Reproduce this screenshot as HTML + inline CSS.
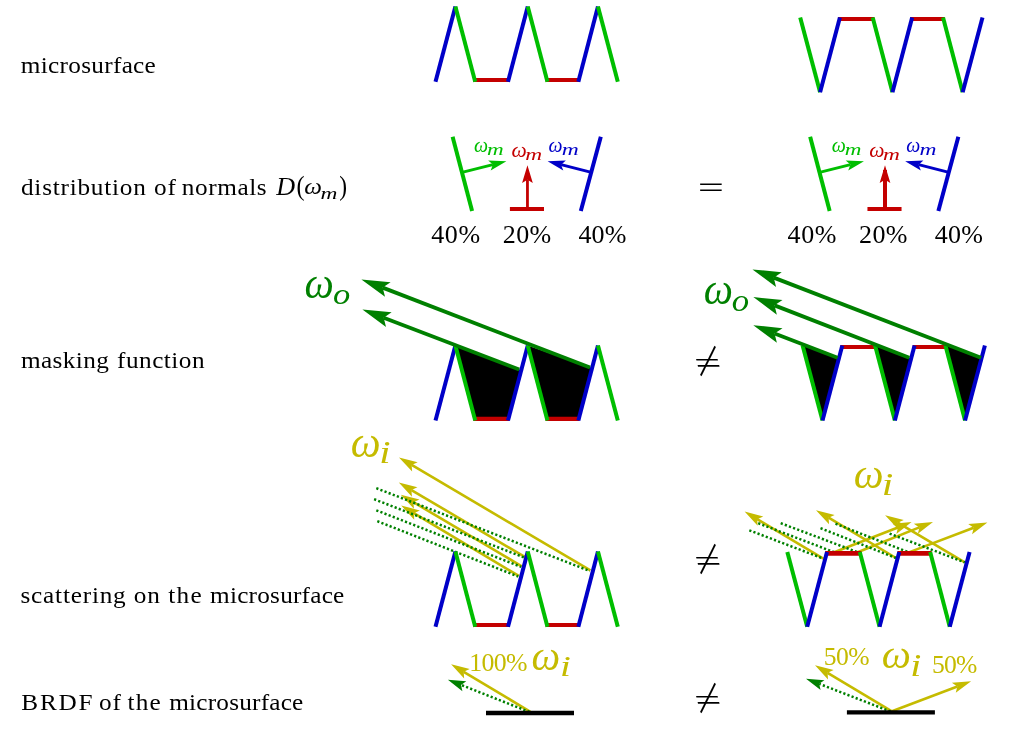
<!DOCTYPE html>
<html lang="en"><head><meta charset="utf-8"><title>Microsurface comparison</title>
<style>
html,body{margin:0;padding:0;background:#fff;}
svg{display:block;will-change:transform;}

</style></head>
<body>
<svg width="1026" height="751" viewBox="0 0 1026 751">
<rect width="1026" height="751" fill="#fff"/>
<g fill="none" stroke-linecap="butt">
<line x1="473.40" y1="80.00" x2="509.00" y2="80.00" stroke="#c40000" stroke-width="4.1" />
<line x1="545.65" y1="80.00" x2="579.35" y2="80.00" stroke="#c40000" stroke-width="4.1" />
<line x1="435.50" y1="81.70" x2="455.40" y2="6.50" stroke="#0000c8" stroke-width="4.0" />
<line x1="508.00" y1="81.70" x2="527.75" y2="6.50" stroke="#0000c8" stroke-width="4.0" />
<line x1="578.35" y1="81.70" x2="597.95" y2="6.50" stroke="#0000c8" stroke-width="4.0" />
<line x1="455.40" y1="6.50" x2="475.20" y2="81.70" stroke="#00be00" stroke-width="4.0" />
<line x1="527.75" y1="6.50" x2="547.45" y2="81.70" stroke="#00be00" stroke-width="4.0" />
<line x1="597.95" y1="6.50" x2="617.80" y2="81.70" stroke="#00be00" stroke-width="4.0" />
<line x1="838.10" y1="18.95" x2="874.20" y2="18.95" stroke="#c40000" stroke-width="4.0" />
<line x1="910.35" y1="18.95" x2="944.55" y2="18.95" stroke="#c40000" stroke-width="4.0" />
<line x1="800.20" y1="17.50" x2="820.10" y2="92.30" stroke="#00be00" stroke-width="4.0" />
<line x1="872.70" y1="17.50" x2="892.45" y2="92.30" stroke="#00be00" stroke-width="4.0" />
<line x1="943.05" y1="17.50" x2="962.65" y2="92.30" stroke="#00be00" stroke-width="4.0" />
<line x1="820.10" y1="92.30" x2="839.90" y2="17.50" stroke="#0000c8" stroke-width="4.0" />
<line x1="892.45" y1="92.30" x2="912.15" y2="17.50" stroke="#0000c8" stroke-width="4.0" />
<line x1="962.65" y1="92.30" x2="982.50" y2="17.50" stroke="#0000c8" stroke-width="4.0" />
<line x1="452.60" y1="136.70" x2="472.10" y2="211.10" stroke="#00be00" stroke-width="4.0" />
<line x1="463.00" y1="172.10" x2="492.92" y2="164.59" stroke="#00be00" stroke-width="3.0" />
<path d="M506.40,161.20 L490.69,170.51 L492.92,164.59 L488.16,160.42 Z" fill="#00be00"/>
<line x1="509.90" y1="208.90" x2="544.00" y2="208.90" stroke="#c40000" stroke-width="4.0" />
<line x1="527.45" y1="208.90" x2="527.45" y2="179.70" stroke="#c40000" stroke-width="2.8" />
<path d="M527.45,165.30 L532.80,182.90 L527.45,179.70 L522.10,182.90 Z" fill="#c40000"/>
<line x1="600.80" y1="136.70" x2="580.80" y2="211.10" stroke="#0000c8" stroke-width="4.0" />
<line x1="590.40" y1="172.10" x2="561.07" y2="164.63" stroke="#0000c8" stroke-width="3.0" />
<path d="M547.60,161.20 L565.84,160.48 L561.07,164.63 L563.28,170.56 Z" fill="#0000c8"/>
<line x1="810.15" y1="136.70" x2="829.65" y2="211.10" stroke="#00be00" stroke-width="4.0" />
<line x1="820.55" y1="172.10" x2="850.47" y2="164.59" stroke="#00be00" stroke-width="3.0" />
<path d="M863.95,161.20 L848.24,170.51 L850.47,164.59 L845.71,160.42 Z" fill="#00be00"/>
<line x1="867.45" y1="208.90" x2="901.55" y2="208.90" stroke="#c40000" stroke-width="4.0" />
<line x1="885.00" y1="208.90" x2="885.00" y2="170.00" stroke="#c40000" stroke-width="4.0" />
<line x1="885.00" y1="208.90" x2="885.00" y2="179.70" stroke="#c40000" stroke-width="4.0" />
<path d="M885.00,165.30 L890.35,182.90 L885.00,179.70 L879.65,182.90 Z" fill="#c40000"/>
<line x1="958.35" y1="136.70" x2="938.35" y2="211.10" stroke="#0000c8" stroke-width="4.0" />
<line x1="947.95" y1="172.10" x2="918.62" y2="164.63" stroke="#0000c8" stroke-width="3.0" />
<path d="M905.15,161.20 L923.39,160.48 L918.62,164.63 L920.83,170.56 Z" fill="#0000c8"/>
<polygon points="455.40,345.40 475.20,420.60 508.00,420.60 520.60,370.10" fill="#000"/>
<polygon points="527.75,345.40 547.45,420.60 578.35,420.60 591.40,368.10" fill="#000"/>
<line x1="473.40" y1="418.90" x2="509.00" y2="418.90" stroke="#c40000" stroke-width="4.1" />
<line x1="545.65" y1="418.90" x2="579.35" y2="418.90" stroke="#c40000" stroke-width="4.1" />
<line x1="435.50" y1="420.60" x2="455.40" y2="345.40" stroke="#0000c8" stroke-width="4.0" />
<line x1="508.00" y1="420.60" x2="527.75" y2="345.40" stroke="#0000c8" stroke-width="4.0" />
<line x1="578.35" y1="420.60" x2="597.95" y2="345.40" stroke="#0000c8" stroke-width="4.0" />
<line x1="455.40" y1="345.40" x2="475.20" y2="420.60" stroke="#00be00" stroke-width="4.0" />
<line x1="527.75" y1="345.40" x2="547.45" y2="420.60" stroke="#00be00" stroke-width="4.0" />
<line x1="597.95" y1="345.40" x2="617.80" y2="420.60" stroke="#00be00" stroke-width="4.0" />
<line x1="519.20" y1="369.60" x2="383.69" y2="317.66" stroke="#008000" stroke-width="3.8" />
<path d="M362.40,309.50 L391.62,312.35 L383.69,317.66 L386.03,326.91 Z" fill="#008000"/>
<line x1="590.00" y1="367.60" x2="382.67" y2="287.61" stroke="#008000" stroke-width="3.8" />
<path d="M361.40,279.40 L390.61,282.31 L382.67,287.61 L385.00,296.86 Z" fill="#008000"/>
<polygon points="802.60,345.60 822.50,420.40 839.00,358.30" fill="#000"/>
<polygon points="875.10,345.60 894.85,420.40 910.70,358.30" fill="#000"/>
<polygon points="945.45,345.60 965.05,420.40 982.40,358.30" fill="#000"/>
<line x1="840.50" y1="347.05" x2="876.60" y2="347.05" stroke="#c40000" stroke-width="4.0" />
<line x1="912.75" y1="347.05" x2="946.95" y2="347.05" stroke="#c40000" stroke-width="4.0" />
<line x1="802.60" y1="345.60" x2="822.50" y2="420.40" stroke="#00be00" stroke-width="4.0" />
<line x1="875.10" y1="345.60" x2="894.85" y2="420.40" stroke="#00be00" stroke-width="4.0" />
<line x1="945.45" y1="345.60" x2="965.05" y2="420.40" stroke="#00be00" stroke-width="4.0" />
<line x1="822.50" y1="420.40" x2="842.30" y2="345.60" stroke="#0000c8" stroke-width="4.0" />
<line x1="894.85" y1="420.40" x2="914.55" y2="345.60" stroke="#0000c8" stroke-width="4.0" />
<line x1="965.05" y1="420.40" x2="984.90" y2="345.60" stroke="#0000c8" stroke-width="4.0" />
<line x1="837.60" y1="357.80" x2="774.57" y2="333.42" stroke="#008000" stroke-width="3.8" />
<path d="M753.30,325.20 L782.51,328.13 L774.57,333.42 L776.88,342.68 Z" fill="#008000"/>
<line x1="909.30" y1="357.80" x2="774.55" y2="305.37" stroke="#008000" stroke-width="3.8" />
<path d="M753.30,297.10 L782.50,300.09 L774.55,305.37 L776.85,314.63 Z" fill="#008000"/>
<line x1="981.00" y1="357.80" x2="773.76" y2="277.63" stroke="#008000" stroke-width="3.8" />
<path d="M752.50,269.40 L781.71,272.34 L773.76,277.63 L776.08,286.89 Z" fill="#008000"/>
<line x1="590.40" y1="570.40" x2="411.65" y2="464.96" stroke="#c5bb00" stroke-width="2.6" />
<path d="M399.00,457.50 L417.67,462.18 L411.65,464.96 L412.13,471.58 Z" fill="#c5bb00"/>
<line x1="524.80" y1="556.90" x2="411.45" y2="490.06" stroke="#c5bb00" stroke-width="2.6" />
<path d="M398.80,482.60 L417.47,487.27 L411.45,490.06 L411.93,496.68 Z" fill="#c5bb00"/>
<line x1="521.80" y1="566.30" x2="413.44" y2="502.18" stroke="#c5bb00" stroke-width="2.6" />
<path d="M400.80,494.70 L419.47,499.40 L413.44,502.18 L413.91,508.80 Z" fill="#c5bb00"/>
<line x1="518.80" y1="575.90" x2="413.81" y2="513.14" stroke="#c5bb00" stroke-width="2.6" />
<path d="M401.20,505.60 L419.85,510.39 L413.81,513.14 L414.24,519.76 Z" fill="#c5bb00"/>
<line x1="376.30" y1="488.20" x2="589.80" y2="571.00" stroke="#008000" stroke-width="2.5" stroke-dasharray="2.2 2.2"/>
<line x1="374.10" y1="499.20" x2="524.20" y2="557.50" stroke="#008000" stroke-width="2.5" stroke-dasharray="2.2 2.2"/>
<line x1="376.30" y1="510.30" x2="521.20" y2="566.90" stroke="#008000" stroke-width="2.5" stroke-dasharray="2.2 2.2"/>
<line x1="377.30" y1="521.20" x2="518.20" y2="576.50" stroke="#008000" stroke-width="2.5" stroke-dasharray="2.2 2.2"/>
<line x1="473.40" y1="625.00" x2="509.00" y2="625.00" stroke="#c40000" stroke-width="4.1" />
<line x1="545.65" y1="625.00" x2="579.35" y2="625.00" stroke="#c40000" stroke-width="4.1" />
<line x1="435.50" y1="626.70" x2="455.40" y2="551.50" stroke="#0000c8" stroke-width="4.0" />
<line x1="508.00" y1="626.70" x2="527.75" y2="551.50" stroke="#0000c8" stroke-width="4.0" />
<line x1="578.35" y1="626.70" x2="597.95" y2="551.50" stroke="#0000c8" stroke-width="4.0" />
<line x1="455.40" y1="551.50" x2="475.20" y2="626.70" stroke="#00be00" stroke-width="4.0" />
<line x1="527.75" y1="551.50" x2="547.45" y2="626.70" stroke="#00be00" stroke-width="4.0" />
<line x1="597.95" y1="551.50" x2="617.80" y2="626.70" stroke="#00be00" stroke-width="4.0" />
<line x1="823.30" y1="558.60" x2="757.21" y2="519.13" stroke="#c5bb00" stroke-width="2.6" />
<path d="M744.60,511.60 L763.25,516.38 L757.21,519.13 L757.65,525.75 Z" fill="#c5bb00"/>
<line x1="834.20" y1="552.20" x2="897.91" y2="527.42" stroke="#c5bb00" stroke-width="2.6" />
<path d="M911.60,522.10 L896.37,533.88 L897.91,527.42 L892.42,523.70 Z" fill="#c5bb00"/>
<line x1="857.60" y1="552.20" x2="919.37" y2="527.38" stroke="#c5bb00" stroke-width="2.6" />
<path d="M933.00,521.90 L917.91,533.85 L919.37,527.38 L913.84,523.72 Z" fill="#c5bb00"/>
<line x1="896.00" y1="558.00" x2="828.61" y2="517.73" stroke="#c5bb00" stroke-width="2.6" />
<path d="M816.00,510.20 L834.65,514.98 L828.61,517.73 L829.05,524.36 Z" fill="#c5bb00"/>
<line x1="908.80" y1="552.40" x2="973.67" y2="527.72" stroke="#c5bb00" stroke-width="2.6" />
<path d="M987.40,522.50 L972.09,534.17 L973.67,527.72 L968.20,523.96 Z" fill="#c5bb00"/>
<line x1="964.80" y1="562.40" x2="897.74" y2="522.69" stroke="#c5bb00" stroke-width="2.6" />
<path d="M885.10,515.20 L903.77,519.91 L897.74,522.69 L898.20,529.30 Z" fill="#c5bb00"/>
<line x1="749.30" y1="530.30" x2="823.30" y2="558.60" stroke="#008000" stroke-width="2.5" stroke-dasharray="2.2 2.2"/>
<line x1="758.20" y1="523.20" x2="834.20" y2="552.20" stroke="#008000" stroke-width="2.5" stroke-dasharray="2.2 2.2"/>
<line x1="780.70" y1="523.20" x2="857.60" y2="552.20" stroke="#008000" stroke-width="2.5" stroke-dasharray="2.2 2.2"/>
<line x1="820.50" y1="528.20" x2="896.00" y2="558.00" stroke="#008000" stroke-width="2.5" stroke-dasharray="2.2 2.2"/>
<line x1="835.50" y1="523.70" x2="908.80" y2="552.40" stroke="#008000" stroke-width="2.5" stroke-dasharray="2.2 2.2"/>
<line x1="889.60" y1="533.60" x2="964.80" y2="562.40" stroke="#008000" stroke-width="2.5" stroke-dasharray="2.2 2.2"/>
<line x1="825.20" y1="553.40" x2="861.30" y2="553.40" stroke="#c40000" stroke-width="4.9" />
<line x1="897.45" y1="553.40" x2="931.65" y2="553.40" stroke="#c40000" stroke-width="4.9" />
<line x1="787.30" y1="551.90" x2="807.20" y2="626.70" stroke="#00be00" stroke-width="4.0" />
<line x1="859.80" y1="551.90" x2="879.55" y2="626.70" stroke="#00be00" stroke-width="4.0" />
<line x1="930.15" y1="551.90" x2="949.75" y2="626.70" stroke="#00be00" stroke-width="4.0" />
<line x1="807.20" y1="626.70" x2="827.00" y2="551.90" stroke="#0000c8" stroke-width="4.0" />
<line x1="879.55" y1="626.70" x2="899.25" y2="551.90" stroke="#0000c8" stroke-width="4.0" />
<line x1="949.75" y1="626.70" x2="969.60" y2="551.90" stroke="#0000c8" stroke-width="4.0" />
<line x1="530.40" y1="711.80" x2="463.70" y2="671.85" stroke="#c5bb00" stroke-width="2.6" />
<path d="M451.10,664.30 L469.74,669.10 L463.70,671.85 L464.13,678.47 Z" fill="#c5bb00"/>
<line x1="529.50" y1="712.00" x2="461.01" y2="684.89" stroke="#008000" stroke-width="2.5" stroke-dasharray="2.2 2.2"/>
<path d="M447.90,679.70 L466.31,681.29 L461.01,684.89 L462.41,691.14 Z" fill="#008000"/>
<line x1="486.00" y1="713.00" x2="574.00" y2="713.00" stroke="#000" stroke-width="4.3" />
<line x1="891.50" y1="711.20" x2="827.59" y2="672.77" stroke="#c5bb00" stroke-width="2.6" />
<path d="M815.00,665.20 L833.63,670.03 L827.59,672.77 L828.01,679.39 Z" fill="#c5bb00"/>
<line x1="892.00" y1="711.20" x2="957.36" y2="686.41" stroke="#c5bb00" stroke-width="2.6" />
<path d="M971.10,681.20 L955.78,692.85 L957.36,686.41 L951.90,682.64 Z" fill="#c5bb00"/>
<line x1="890.50" y1="711.50" x2="819.14" y2="683.80" stroke="#008000" stroke-width="2.5" stroke-dasharray="2.2 2.2"/>
<path d="M806.00,678.70 L824.42,680.16 L819.14,683.80 L820.58,690.05 Z" fill="#008000"/>
<line x1="846.90" y1="712.40" x2="934.90" y2="712.40" stroke="#000" stroke-width="4.3" />
</g>
<g>
<text transform="translate(0 73.10) scale(1.07 1)" font-family="Liberation Serif, serif" font-size="23.6" fill="#000"><tspan x="19.50" letter-spacing="0.277">microsurface</tspan></text>
<text transform="translate(0 194.90) scale(1.07 1)" font-family="Liberation Serif, serif" font-size="23.6" fill="#000"><tspan x="19.62" letter-spacing="0.714">distribution </tspan><tspan x="144.02" letter-spacing="0.626">of </tspan><tspan x="169.87" letter-spacing="0.563">normals</tspan></text>
<text transform="translate(0 367.80) scale(1.07 1)" font-family="Liberation Serif, serif" font-size="23.6" fill="#000"><tspan x="19.69" letter-spacing="0.338">masking </tspan><tspan x="109.44" letter-spacing="0.451">function</tspan></text>
<text transform="translate(0 602.50) scale(1.07 1)" font-family="Liberation Serif, serif" font-size="23.6" fill="#000"><tspan x="19.16" letter-spacing="0.744">scattering </tspan><tspan x="124.95" letter-spacing="0.771">on </tspan><tspan x="157.32" letter-spacing="1.187">the </tspan><tspan x="196.32" letter-spacing="0.218">microsurface</tspan></text>
<text transform="translate(0 709.70) scale(1.07 1)" font-family="Liberation Serif, serif" font-size="23.6" fill="#000"><tspan x="19.97" letter-spacing="1.640">BRDF </tspan><tspan x="92.43" letter-spacing="0.813">of </tspan><tspan x="119.10" letter-spacing="1.140">the </tspan><tspan x="158.10" letter-spacing="0.209">microsurface</tspan></text>
<text transform="translate(276.36 194.70) scale(1.037 1)" font-family="Liberation Serif, serif" font-style="italic" font-size="25.19" fill="#000">D</text>
<text transform="translate(296.53 194.91) scale(0.891 1)" font-family="Liberation Serif, serif" font-size="27.11" fill="#000">(</text>
<text transform="translate(304.25 194.38) scale(1.122 1)" font-family="Liberation Serif, serif" font-style="italic" font-size="22.32" fill="#000">ω</text>
<text transform="translate(320.58 198.60) scale(1.426 1)" font-family="Liberation Serif, serif" font-style="italic" font-size="16.42" fill="#000">m</text>
<text transform="translate(339.20 194.91) scale(0.865 1)" font-family="Liberation Serif, serif" font-size="27.11" fill="#000">)</text>
<text x="431.30" y="242.80" font-family="Liberation Serif, serif" font-size="26.0" letter-spacing="0.575" fill="#000">40%</text>
<text x="502.80" y="242.80" font-family="Liberation Serif, serif" font-size="26.0" letter-spacing="0.375" fill="#000">20%</text>
<text x="578.40" y="242.80" font-family="Liberation Serif, serif" font-size="26.0" letter-spacing="0.225" fill="#000">40%</text>
<text x="787.60" y="242.80" font-family="Liberation Serif, serif" font-size="26.0" letter-spacing="0.575" fill="#000">40%</text>
<text x="859.10" y="242.80" font-family="Liberation Serif, serif" font-size="26.0" letter-spacing="0.375" fill="#000">20%</text>
<text x="934.70" y="242.80" font-family="Liberation Serif, serif" font-size="26.0" letter-spacing="0.225" fill="#000">40%</text>
<text transform="translate(473.95 151.88) scale(0.910 1)" font-family="Liberation Serif, serif" font-style="italic" font-size="21.89" fill="#00be00">ω</text>
<text transform="translate(486.99 155.10) scale(1.463 1)" font-family="Liberation Serif, serif" font-style="italic" font-size="15.79" fill="#00be00">m</text>
<text transform="translate(511.45 156.58) scale(0.985 1)" font-family="Liberation Serif, serif" font-style="italic" font-size="21.89" fill="#c40000">ω</text>
<text transform="translate(525.28 159.80) scale(1.463 1)" font-family="Liberation Serif, serif" font-style="italic" font-size="16.00" fill="#c40000">m</text>
<text transform="translate(548.60 151.88) scale(0.906 1)" font-family="Liberation Serif, serif" font-style="italic" font-size="21.89" fill="#0000c8">ω</text>
<text transform="translate(561.78 155.10) scale(1.493 1)" font-family="Liberation Serif, serif" font-style="italic" font-size="15.79" fill="#0000c8">m</text>
<text transform="translate(831.65 151.88) scale(0.910 1)" font-family="Liberation Serif, serif" font-style="italic" font-size="21.89" fill="#00be00">ω</text>
<text transform="translate(844.69 155.10) scale(1.463 1)" font-family="Liberation Serif, serif" font-style="italic" font-size="15.79" fill="#00be00">m</text>
<text transform="translate(869.15 156.58) scale(0.985 1)" font-family="Liberation Serif, serif" font-style="italic" font-size="21.89" fill="#c40000">ω</text>
<text transform="translate(882.98 159.80) scale(1.463 1)" font-family="Liberation Serif, serif" font-style="italic" font-size="16.00" fill="#c40000">m</text>
<text transform="translate(906.30 151.88) scale(0.906 1)" font-family="Liberation Serif, serif" font-style="italic" font-size="21.89" fill="#0000c8">ω</text>
<text transform="translate(919.48 155.10) scale(1.493 1)" font-family="Liberation Serif, serif" font-style="italic" font-size="15.79" fill="#0000c8">m</text>
<text transform="translate(304.55 297.86) scale(0.954 1)" font-family="Liberation Serif, serif" font-style="italic" font-size="43.58" fill="#008000">ω</text>
<text transform="translate(332.96 303.90) scale(1.144 1)" font-family="Liberation Serif, serif" font-style="italic" font-size="30.21" fill="#008000">o</text>
<text transform="translate(703.66 304.46) scale(0.941 1)" font-family="Liberation Serif, serif" font-style="italic" font-size="44.00" fill="#008000">ω</text>
<text transform="translate(731.86 310.89) scale(1.135 1)" font-family="Liberation Serif, serif" font-style="italic" font-size="30.62" fill="#008000">o</text>
<text transform="translate(350.83 456.97) scale(0.977 1)" font-family="Liberation Serif, serif" font-style="italic" font-size="43.37" fill="#c5bb00">ω</text>
<text transform="translate(379.15 463.40) scale(1.300 1)" font-family="Liberation Serif, serif" font-style="italic" font-size="31.28" fill="#c5bb00">i</text>
<text transform="translate(853.63 488.07) scale(0.986 1)" font-family="Liberation Serif, serif" font-style="italic" font-size="42.95" fill="#c5bb00">ω</text>
<text transform="translate(881.68 494.80) scale(1.300 1)" font-family="Liberation Serif, serif" font-style="italic" font-size="31.88" fill="#c5bb00">i</text>
<text x="469.15" y="671.30" font-family="Liberation Serif, serif" font-size="25.8" letter-spacing="-0.617" fill="#c5bb00">100%</text>
<text transform="translate(531.58 669.59) scale(0.980 1)" font-family="Liberation Serif, serif" font-style="italic" font-size="41.47" fill="#c5bb00">ω</text>
<text transform="translate(560.02 675.70) scale(1.300 1)" font-family="Liberation Serif, serif" font-style="italic" font-size="29.92" fill="#c5bb00">i</text>
<text x="823.80" y="665.20" font-family="Liberation Serif, serif" font-size="25.6" letter-spacing="-0.575" fill="#c5bb00">50%</text>
<text transform="translate(881.66 667.90) scale(1.021 1)" font-family="Liberation Serif, serif" font-style="italic" font-size="40.42" fill="#c5bb00">ω</text>
<text transform="translate(910.22 675.60) scale(1.300 1)" font-family="Liberation Serif, serif" font-style="italic" font-size="30.68" fill="#c5bb00">i</text>
<text x="932.00" y="673.40" font-family="Liberation Serif, serif" font-size="25.6" letter-spacing="-0.825" fill="#c5bb00">50%</text>
<text transform="translate(696.40 199.40) skewX(0) scale(1 1.13)" font-family="DejaVu Sans Light, DejaVu Sans, sans-serif" font-size="34.4" fill="#000">=</text>
<text transform="translate(696.40 375.45) skewX(14.3) scale(1 1.13)" font-family="DejaVu Sans Light, DejaVu Sans, sans-serif" font-size="34.4" fill="#000">≠</text>
<text transform="translate(696.40 572.65) skewX(14.3) scale(1 1.13)" font-family="DejaVu Sans Light, DejaVu Sans, sans-serif" font-size="34.4" fill="#000">≠</text>
<text transform="translate(696.40 712.20) skewX(14.3) scale(1 1.13)" font-family="DejaVu Sans Light, DejaVu Sans, sans-serif" font-size="34.4" fill="#000">≠</text>
</g>
</svg>
</body></html>
